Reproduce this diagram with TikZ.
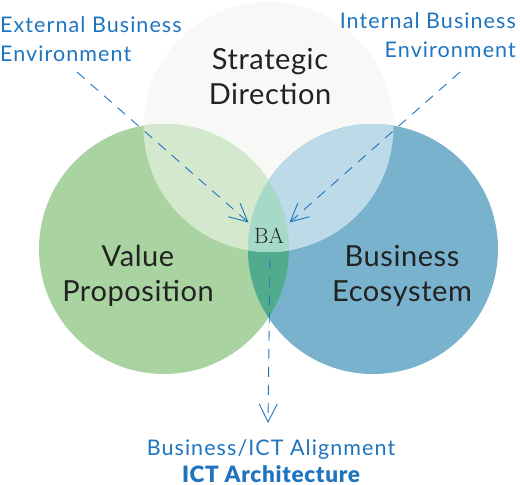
\documentclass[tikz,border=0pt]{standalone}
\usepackage{fontspec}
\setmainfont{Lato}
\usetikzlibrary{arrows.meta}
\definecolor{cgreen}{HTML}{A9D3A0}
\definecolor{cblue}{HTML}{78B2CD}
\definecolor{cteal}{HTML}{51AB8D}
\definecolor{clgreen}{HTML}{D3E8CD}
\definecolor{clblue}{HTML}{BCDAE7}
\definecolor{cltop}{HTML}{F8F8F6}
\definecolor{ctriple}{HTML}{A6D9C7}
\definecolor{cline}{HTML}{1F74C0}
\definecolor{ctext}{HTML}{222222}
\IfFontExistsTF{Lato Black}
  {\newfontfamily\heavyfont[LetterSpace=3]{Lato Black}}
  {\newfontfamily\heavyfont[LetterSpace=6]{Lato Bold}}
\newfontfamily\envfont[LetterSpace=5]{Lato}
\newfontfamily\circfont[LetterSpace=2]{Lato}
\begin{document}
\begin{tikzpicture}[x=1pt,y=-1pt,
  envtext/.style={text=cline,font=\envfont\fontsize{21.5}{29}\selectfont,inner sep=0pt},
  circtext/.style={text=ctext,font=\circfont\fontsize{29}{35}\selectfont,inner sep=0pt,align=center,anchor=north},
  dashedarrow/.style={draw=cline,line width=0.9pt,dash pattern=on 10pt off 8pt,
    -{Straight Barb[length=18pt,width=18pt,line width=0.9pt]}}]
\useasboundingbox (0,0) rectangle (520,485);
\def\R{125}
% base circles
\fill[cltop] (268.5,127) circle (\R);
\fill[cgreen] (164,249) circle (\R);
\fill[cblue] (373,249) circle (\R);
\begin{scope}
  \clip (164,249) circle (\R);
  \fill[cteal] (373,249) circle (\R);
\end{scope}
\begin{scope}
  \clip (268.5,127) circle (\R);
  \fill[clgreen] (164,249) circle (\R);
  \fill[clblue] (373,249) circle (\R);
  \clip (164,249) circle (\R);
  \fill[ctriple] (373,249) circle (\R);
\end{scope}
% texts
\node[envtext,anchor=north west,align=left] (ext) at (0,16) {External Business\\Environment};
\node[envtext,anchor=north east,align=right] (int) at (516,12) {Internal Business\\Environment};
\node[circtext] (sd) at (270,48) {Strategic\\Direction};
\node[circtext] (vp) at (138,245) {Value\\Proposition};
\node[circtext] (be) at (402,245) {Business\\Ecosystem};
\node[text=ctext,font=\fontspec{Latin Modern Roman}\fontsize{22}{26}\selectfont,inner sep=5.5pt] (ba) at (269,236) {BA};
\node[text=cline,font=\envfont\fontsize{21.5}{24}\selectfont,inner sep=0pt,anchor=base] (bict) at (271,455) {Business/ICT Alignment};
\node[text=cline,font=\heavyfont\fontsize{22.5}{26}\selectfont,inner sep=0pt,anchor=base] (icta) at (271,482) {ICT Architecture};
% connectors
\coordinate (extS) at (77,72);
\coordinate (intS) at (460,72);
\coordinate (baT) at (270,259);
\draw[dashedarrow] (extS) -- (ba.north west);
\draw[dashedarrow] (intS) -- (ba.north east);
\draw[dashedarrow] (baT) -- (268,423);
\end{tikzpicture}
\end{document}
